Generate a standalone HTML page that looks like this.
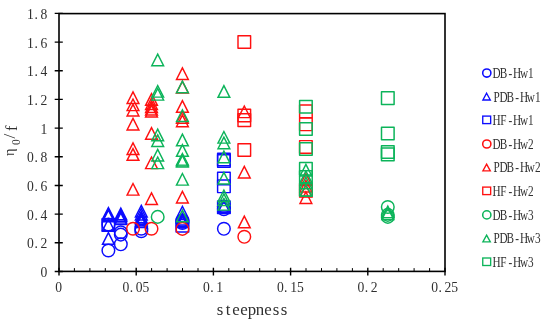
<!DOCTYPE html><html><head><meta charset="utf-8"><title>chart</title><style>html,body{margin:0;padding:0;background:#fff}svg{display:block}text{font-family:"Liberation Serif",serif;fill:#303030}</style></head><body>
<svg width="550" height="324" viewBox="0 0 550 324">
<rect width="550" height="324" fill="#fff"/>
<rect x="59.0" y="13.6" width="386.0" height="257.8" fill="none" stroke="#000" stroke-width="1.6"/>
<path d="M54.7 271.5H62.8M54.7 242.8H62.8M54.7 214.1H62.8M54.7 185.5H62.8M54.7 156.8H62.8M54.7 128.1H62.8M54.7 99.4H62.8M54.7 70.8H62.8M54.7 42.1H62.8M54.7 13.4H62.8M59.0 267.8V275.6M136.2 267.8V275.6M213.4 267.8V275.6M290.6 267.8V275.6M367.8 267.8V275.6M445.0 267.8V275.6" stroke="#000" stroke-width="1.4" fill="none"/>
<path d="M74.4 271.4v-3.3M89.9 271.4v-3.3M105.3 271.4v-3.3M120.8 271.4v-3.3M151.6 271.4v-3.3M167.1 271.4v-3.3M182.5 271.4v-3.3M198.0 271.4v-3.3M228.8 271.4v-3.3M244.3 271.4v-3.3M259.7 271.4v-3.3M275.2 271.4v-3.3M306.0 271.4v-3.3M321.5 271.4v-3.3M336.9 271.4v-3.3M352.4 271.4v-3.3M383.2 271.4v-3.3M398.7 271.4v-3.3M414.1 271.4v-3.3M429.6 271.4v-3.3" stroke="#000" stroke-width="1" fill="none"/>
<text x="40.4" y="277.1" font-size="13.6">0</text>
<text x="27.1 34.4 40.4" y="248.4" font-size="13.6">0.2</text>
<text x="27.1 34.4 40.4" y="219.7" font-size="13.6">0.4</text>
<text x="27.1 34.4 40.4" y="191.1" font-size="13.6">0.6</text>
<text x="27.1 34.4 40.4" y="162.4" font-size="13.6">0.8</text>
<text x="40.4" y="133.7" font-size="13.6">1</text>
<text x="27.1 34.4 40.4" y="105.0" font-size="13.6">1.2</text>
<text x="27.1 34.4 40.4" y="76.4" font-size="13.6">1.4</text>
<text x="27.1 34.4 40.4" y="47.7" font-size="13.6">1.6</text>
<text x="27.1 34.4 40.4" y="19.0" font-size="13.6">1.8</text>
<text x="55.3" y="292.2" font-size="13.6">0</text>
<text x="122.5 129.7 135.8 142.5" y="292.2" font-size="13.6">0.05</text>
<text x="203.0 210.3 216.3" y="292.2" font-size="13.6">0.1</text>
<text x="276.9 284.1 290.2 296.9" y="292.2" font-size="13.6">0.15</text>
<text x="357.4 364.7 370.7" y="292.2" font-size="13.6">0.2</text>
<text x="431.3 438.5 444.6 451.3" y="292.2" font-size="13.6">0.25</text>
<text transform="translate(216.0,315.4) scale(0.97,1)" text-anchor="middle" x="4.12 12.37 20.62 28.87 37.11 45.36 53.61 61.86 70.10" font-size="17.4">steepness</text>
<text transform="translate(16.8,160.2) rotate(-90)" font-size="16.4"><tspan x="4.3" y="-3.0" font-size="14.5">η</tspan><tspan x="15.1" y="3.5" font-size="11.6">0</tspan><tspan x="21.6" y="-1.4" font-size="17.5">/</tspan><tspan x="29.2" y="0">f</tspan></text>
<g fill="none" stroke-width="1.45" stroke-linejoin="miter">
<circle cx="108.4" cy="250.5" r="6.3" stroke="#0c0cff"/>
<circle cx="108.4" cy="224.5" r="6.3" stroke="#0c0cff"/>
<circle cx="120.8" cy="244.3" r="6.3" stroke="#0c0cff"/>
<circle cx="120.8" cy="234.6" r="6.3" stroke="#0c0cff"/>
<circle cx="120.8" cy="232.2" r="6.3" stroke="#0c0cff"/>
<circle cx="141.3" cy="231.2" r="6.3" stroke="#0c0cff"/>
<circle cx="141.3" cy="228.7" r="6.3" stroke="#0c0cff"/>
<circle cx="182.4" cy="220.6" r="6.3" stroke="#0c0cff"/>
<circle cx="182.4" cy="221.8" r="6.3" stroke="#0c0cff"/>
<circle cx="182.4" cy="223.0" r="6.3" stroke="#0c0cff"/>
<circle cx="223.9" cy="228.8" r="6.3" stroke="#0c0cff"/>
<circle cx="223.9" cy="209.2" r="6.3" stroke="#0c0cff"/>
<circle cx="223.9" cy="206.6" r="6.3" stroke="#0c0cff"/>
<path d="M108.4 207.5L114.3 219.1H102.5Z" stroke="#0c0cff"/>
<path d="M108.4 208.8L114.3 220.4H102.5Z" stroke="#0c0cff"/>
<path d="M108.4 210.2L114.3 221.8H102.5Z" stroke="#0c0cff"/>
<path d="M108.4 219.0L114.3 230.6H102.5Z" stroke="#0c0cff"/>
<path d="M108.4 232.7L114.3 244.3H102.5Z" stroke="#0c0cff"/>
<path d="M120.8 208.2L126.7 219.8H114.9Z" stroke="#0c0cff"/>
<path d="M120.8 209.6L126.7 221.2H114.9Z" stroke="#0c0cff"/>
<path d="M120.8 211.3L126.7 222.9H114.9Z" stroke="#0c0cff"/>
<path d="M120.8 213.0L126.7 224.6H114.9Z" stroke="#0c0cff"/>
<path d="M141.3 205.4L147.2 217.0H135.4Z" stroke="#0c0cff"/>
<path d="M141.3 208.4L147.2 220.0H135.4Z" stroke="#0c0cff"/>
<path d="M141.3 211.4L147.2 223.0H135.4Z" stroke="#0c0cff"/>
<path d="M141.3 213.0L147.2 224.6H135.4Z" stroke="#0c0cff"/>
<path d="M141.3 214.4L147.2 226.0H135.4Z" stroke="#0c0cff"/>
<path d="M141.3 216.0L147.2 227.6H135.4Z" stroke="#0c0cff"/>
<path d="M182.4 206.3L188.3 217.9H176.5Z" stroke="#0c0cff"/>
<path d="M182.4 213.4L188.3 225.0H176.5Z" stroke="#0c0cff"/>
<path d="M182.4 214.6L188.3 226.2H176.5Z" stroke="#0c0cff"/>
<path d="M182.4 216.0L188.3 227.6H176.5Z" stroke="#0c0cff"/>
<path d="M223.9 199.4L229.8 211.0H218.0Z" stroke="#0c0cff"/>
<path d="M223.9 200.9L229.8 212.5H218.0Z" stroke="#0c0cff"/>
<rect x="102.1" y="218.6" width="12.6" height="12.6" stroke="#0c0cff" stroke-linejoin="round"/>
<rect x="176.1" y="219.4" width="12.6" height="12.6" stroke="#0c0cff" stroke-linejoin="round"/>
<rect x="217.6" y="153.2" width="12.6" height="12.6" stroke="#0c0cff" stroke-linejoin="round"/>
<rect x="217.6" y="154.7" width="12.6" height="12.6" stroke="#0c0cff" stroke-linejoin="round"/>
<rect x="217.6" y="172.2" width="12.6" height="12.6" stroke="#0c0cff" stroke-linejoin="round"/>
<rect x="217.6" y="180.0" width="12.6" height="12.6" stroke="#0c0cff" stroke-linejoin="round"/>
<rect x="217.6" y="201.0" width="12.6" height="12.6" stroke="#0c0cff" stroke-linejoin="round"/>
<circle cx="133.0" cy="228.7" r="6.3" stroke="#ff1010"/>
<circle cx="151.5" cy="228.7" r="6.3" stroke="#ff1010"/>
<circle cx="182.4" cy="228.9" r="6.3" stroke="#ff1010"/>
<circle cx="244.3" cy="236.8" r="6.3" stroke="#ff1010"/>
<path d="M133.0 91.8L138.9 103.4H127.1Z" stroke="#ff1010"/>
<path d="M133.0 99.0L138.9 110.6H127.1Z" stroke="#ff1010"/>
<path d="M133.0 104.3L138.9 115.9H127.1Z" stroke="#ff1010"/>
<path d="M133.0 118.3L138.9 129.9H127.1Z" stroke="#ff1010"/>
<path d="M133.0 142.8L138.9 154.4H127.1Z" stroke="#ff1010"/>
<path d="M133.0 148.7L138.9 160.3H127.1Z" stroke="#ff1010"/>
<path d="M133.0 183.5L138.9 195.1H127.1Z" stroke="#ff1010"/>
<path d="M151.5 93.7L157.4 105.3H145.6Z" stroke="#ff1010"/>
<path d="M151.5 97.8L157.4 109.4H145.6Z" stroke="#ff1010"/>
<path d="M151.5 100.9L157.4 112.5H145.6Z" stroke="#ff1010"/>
<path d="M151.5 103.3L157.4 114.9H145.6Z" stroke="#ff1010"/>
<path d="M151.5 105.4L157.4 117.0H145.6Z" stroke="#ff1010"/>
<path d="M151.5 127.6L157.4 139.2H145.6Z" stroke="#ff1010"/>
<path d="M151.5 157.0L157.4 168.6H145.6Z" stroke="#ff1010"/>
<path d="M151.5 192.8L157.4 204.4H145.6Z" stroke="#ff1010"/>
<path d="M182.4 67.9L188.3 79.5H176.5Z" stroke="#ff1010"/>
<path d="M182.4 81.3L188.3 92.9H176.5Z" stroke="#ff1010"/>
<path d="M182.4 100.7L188.3 112.3H176.5Z" stroke="#ff1010"/>
<path d="M182.4 111.6L188.3 123.2H176.5Z" stroke="#ff1010"/>
<path d="M182.4 115.1L188.3 126.7H176.5Z" stroke="#ff1010"/>
<path d="M182.4 191.4L188.3 203.0H176.5Z" stroke="#ff1010"/>
<path d="M244.3 106.0L250.2 117.6H238.4Z" stroke="#ff1010"/>
<path d="M244.3 166.4L250.2 178.0H238.4Z" stroke="#ff1010"/>
<path d="M244.3 216.2L250.2 227.8H238.4Z" stroke="#ff1010"/>
<path d="M305.9 173.6L311.8 185.2H300.0Z" stroke="#ff1010"/>
<path d="M305.9 180.4L311.8 192.0H300.0Z" stroke="#ff1010"/>
<path d="M305.9 185.5L311.8 197.1H300.0Z" stroke="#ff1010"/>
<path d="M305.9 191.9L311.8 203.5H300.0Z" stroke="#ff1010"/>
<rect x="238.0" y="35.7" width="12.6" height="12.6" stroke="#ff1010" stroke-linejoin="round"/>
<rect x="238.0" y="109.2" width="12.6" height="12.6" stroke="#ff1010" stroke-linejoin="round"/>
<rect x="238.0" y="113.8" width="12.6" height="12.6" stroke="#ff1010" stroke-linejoin="round"/>
<rect x="238.0" y="143.7" width="12.6" height="12.6" stroke="#ff1010" stroke-linejoin="round"/>
<rect x="299.6" y="105.0" width="12.6" height="12.6" stroke="#ff1010" stroke-linejoin="round"/>
<rect x="299.6" y="118.0" width="12.6" height="12.6" stroke="#ff1010" stroke-linejoin="round"/>
<rect x="299.6" y="140.6" width="12.6" height="12.6" stroke="#ff1010" stroke-linejoin="round"/>
<rect x="299.6" y="183.9" width="12.6" height="12.6" stroke="#ff1010" stroke-linejoin="round"/>
<circle cx="157.7" cy="216.9" r="6.3" stroke="#0cb45a"/>
<circle cx="387.8" cy="207.0" r="6.3" stroke="#0cb45a"/>
<circle cx="387.8" cy="214.9" r="6.3" stroke="#0cb45a"/>
<circle cx="387.8" cy="216.9" r="6.3" stroke="#0cb45a"/>
<path d="M157.7 54.1L163.6 65.7H151.8Z" stroke="#0cb45a"/>
<path d="M157.7 85.5L163.6 97.1H151.8Z" stroke="#0cb45a"/>
<path d="M157.7 88.5L163.6 100.1H151.8Z" stroke="#0cb45a"/>
<path d="M157.7 129.2L163.6 140.8H151.8Z" stroke="#0cb45a"/>
<path d="M157.7 134.9L163.6 146.5H151.8Z" stroke="#0cb45a"/>
<path d="M157.7 149.3L163.6 160.9H151.8Z" stroke="#0cb45a"/>
<path d="M157.7 157.0L163.6 168.6H151.8Z" stroke="#0cb45a"/>
<path d="M182.4 81.1L188.3 92.7H176.5Z" stroke="#0cb45a"/>
<path d="M182.4 109.8L188.3 121.4H176.5Z" stroke="#0cb45a"/>
<path d="M182.4 134.2L188.3 145.8H176.5Z" stroke="#0cb45a"/>
<path d="M182.4 144.7L188.3 156.3H176.5Z" stroke="#0cb45a"/>
<path d="M182.4 153.5L188.3 165.1H176.5Z" stroke="#0cb45a"/>
<path d="M182.4 154.5L188.3 166.1H176.5Z" stroke="#0cb45a"/>
<path d="M182.4 155.5L188.3 167.1H176.5Z" stroke="#0cb45a"/>
<path d="M182.4 173.5L188.3 185.1H176.5Z" stroke="#0cb45a"/>
<path d="M182.4 210.2L188.3 221.8H176.5Z" stroke="#0cb45a"/>
<path d="M223.9 85.7L229.8 97.3H218.0Z" stroke="#0cb45a"/>
<path d="M223.9 131.5L229.8 143.1H218.0Z" stroke="#0cb45a"/>
<path d="M223.9 137.1L229.8 148.7H218.0Z" stroke="#0cb45a"/>
<path d="M223.9 151.2L229.8 162.8H218.0Z" stroke="#0cb45a"/>
<path d="M223.9 172.4L229.8 184.0H218.0Z" stroke="#0cb45a"/>
<path d="M223.9 190.0L229.8 201.6H218.0Z" stroke="#0cb45a"/>
<path d="M223.9 193.8L229.8 205.4H218.0Z" stroke="#0cb45a"/>
<path d="M223.9 198.5L229.8 210.1H218.0Z" stroke="#0cb45a"/>
<path d="M305.9 164.4L311.8 176.0H300.0Z" stroke="#0cb45a"/>
<path d="M305.9 171.0L311.8 182.6H300.0Z" stroke="#0cb45a"/>
<path d="M305.9 177.1L311.8 188.7H300.0Z" stroke="#0cb45a"/>
<path d="M305.9 184.5L311.8 196.1H300.0Z" stroke="#0cb45a"/>
<path d="M387.8 206.0L393.7 217.6H381.9Z" stroke="#0cb45a"/>
<path d="M387.8 207.8L393.7 219.4H381.9Z" stroke="#0cb45a"/>
<rect x="299.6" y="100.4" width="12.6" height="12.6" stroke="#0cb45a" stroke-width="1.5" stroke-linejoin="round"/>
<rect x="299.6" y="122.7" width="12.6" height="12.6" stroke="#0cb45a" stroke-width="1.5" stroke-linejoin="round"/>
<rect x="299.6" y="142.7" width="12.6" height="12.6" stroke="#0cb45a" stroke-width="1.5" stroke-linejoin="round"/>
<rect x="299.6" y="162.5" width="12.6" height="12.6" stroke="#0cb45a" stroke-width="1.5" stroke-linejoin="round"/>
<rect x="299.6" y="170.8" width="12.6" height="12.6" stroke="#0cb45a" stroke-width="1.5" stroke-linejoin="round"/>
<rect x="299.6" y="183.4" width="12.6" height="12.6" stroke="#0cb45a" stroke-width="1.5" stroke-linejoin="round"/>
<rect x="381.5" y="91.8" width="12.6" height="12.6" stroke="#0cb45a" stroke-width="1.5" stroke-linejoin="round"/>
<rect x="381.5" y="127.2" width="12.6" height="12.6" stroke="#0cb45a" stroke-width="1.5" stroke-linejoin="round"/>
<rect x="381.5" y="145.7" width="12.6" height="12.6" stroke="#0cb45a" stroke-width="1.5" stroke-linejoin="round"/>
<rect x="381.5" y="148.1" width="12.6" height="12.6" stroke="#0cb45a" stroke-width="1.5" stroke-linejoin="round"/>
</g>
<g fill="none">
<circle cx="486.8" cy="73.0" r="4.1" stroke="#0c0cff" stroke-width="1.55"/>
<path d="M486.6 93.2L490.3 100.0H482.9Z" stroke="#0c0cff" stroke-width="1.35"/>
<rect x="482.75" y="116.1" width="7.9" height="7.5" stroke="#0c0cff" stroke-width="1.35"/>
<circle cx="486.8" cy="144.0" r="4.1" stroke="#ff1010" stroke-width="1.55"/>
<path d="M486.6 164.2L490.3 170.9H482.9Z" stroke="#ff1010" stroke-width="1.35"/>
<rect x="482.75" y="187.1" width="7.9" height="7.5" stroke="#ff1010" stroke-width="1.35"/>
<circle cx="486.8" cy="214.9" r="4.1" stroke="#0cb45a" stroke-width="1.55"/>
<path d="M486.6 235.2L490.3 241.8H482.9Z" stroke="#0cb45a" stroke-width="1.35"/>
<rect x="482.75" y="258.0" width="7.9" height="7.5" stroke="#0cb45a" stroke-width="1.35"/>
</g>
<text transform="translate(493.2,77.8) scale(0.78,1)" text-anchor="middle" x="4.39 13.17 21.96 30.74 39.52 48.30" font-size="14.4">DB-Hw1</text>
<text transform="translate(493.2,101.5) scale(0.78,1)" text-anchor="middle" x="4.39 13.17 21.96 30.74 39.52 48.30 57.08" font-size="14.4">PDB-Hw1</text>
<text transform="translate(493.2,125.1) scale(0.78,1)" text-anchor="middle" x="4.39 13.17 21.96 30.74 39.52 48.30" font-size="14.4">HF-Hw1</text>
<text transform="translate(493.2,148.8) scale(0.78,1)" text-anchor="middle" x="4.39 13.17 21.96 30.74 39.52 48.30" font-size="14.4">DB-Hw2</text>
<text transform="translate(493.2,172.4) scale(0.78,1)" text-anchor="middle" x="4.39 13.17 21.96 30.74 39.52 48.30 57.08" font-size="14.4">PDB-Hw2</text>
<text transform="translate(493.2,196.1) scale(0.78,1)" text-anchor="middle" x="4.39 13.17 21.96 30.74 39.52 48.30" font-size="14.4">HF-Hw2</text>
<text transform="translate(493.2,219.7) scale(0.78,1)" text-anchor="middle" x="4.39 13.17 21.96 30.74 39.52 48.30" font-size="14.4">DB-Hw3</text>
<text transform="translate(493.2,243.3) scale(0.78,1)" text-anchor="middle" x="4.39 13.17 21.96 30.74 39.52 48.30 57.08" font-size="14.4">PDB-Hw3</text>
<text transform="translate(493.2,267.0) scale(0.78,1)" text-anchor="middle" x="4.39 13.17 21.96 30.74 39.52 48.30" font-size="14.4">HF-Hw3</text>
</svg></body></html>
